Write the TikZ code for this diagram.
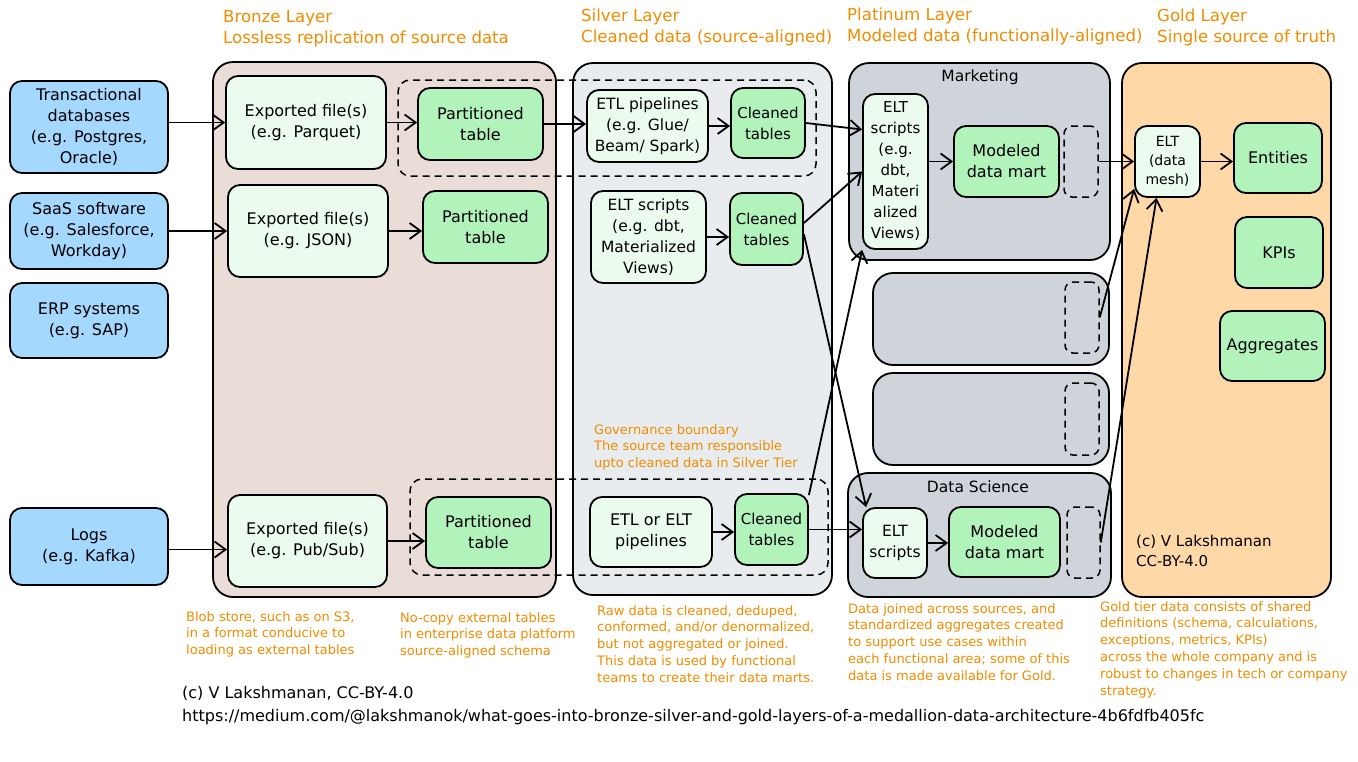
\documentclass[tikz,border=0pt]{standalone}
\usepackage{fontspec}
\setmainfont{DejaVu Sans}
\usetikzlibrary{arrows.meta}
\definecolor{cblue}{HTML}{A5D8FF}
\definecolor{clgreen}{HTML}{EBFBEE}
\definecolor{cgreen}{HTML}{B2F2BB}
\definecolor{cbronze}{HTML}{EADDD7}
\definecolor{csilver}{HTML}{E9ECEF}
\definecolor{cplat}{HTML}{CED4DA}
\definecolor{cgold}{HTML}{FFD8A8}
\definecolor{corange}{HTML}{F08C00}
\newcommand\bx[7]{\node[#2, minimum width={(#5)-(#3)}, minimum height={(#6)-(#4)}] (#1) at ({((#3)+(#5))/2},{((#4)+(#6))/2}) {#7};}
\begin{document}
\begin{tikzpicture}[x=1pt,y=-1pt,
  base/.style={draw=black, line width=1.8pt, rounded corners=12pt, align=center, inner sep=1pt, font=\fontsize{16}{21}\selectfont},
  src/.style={base, fill=cblue},
  lg/.style={base, fill=clgreen},
  gr/.style={base, fill=cgreen},
  cont/.style={draw=black, line width=1.8pt, rounded corners=20pt},
  dbox/.style={draw=black, line width=1.5pt, dash pattern=on 7pt off 5pt, rounded corners=12pt},
  ttl/.style={text=corange, font=\fontsize{16.6}{21}\selectfont, align=left, anchor=north west, inner sep=0pt},
  note/.style={text=corange, font=\fontsize{13}{16.8}\selectfont, align=left, anchor=north west, inner sep=0pt},
  lbl/.style={text=black, font=\fontsize{15.5}{19}\selectfont, inner sep=0pt},
  arr/.style={draw=black, line width=1.8pt, -{Straight Barb[length=11pt,width=16pt,line width=1.8pt]}},
]
\useasboundingbox (0,0) rectangle (1358,761);
\fill[white] (0,0) rectangle (1358,761);

% titles
\node[ttl] (tb) at (223,10) {Bronze Layer\\Lossless replication of source data};
\node[ttl] (ts) at (581,9) {Silver Layer\\Cleaned data (source-aligned)};
\node[ttl] (tp) at (847,8) {Platinum Layer\\Modeled data (functionally-aligned)};
\node[ttl] (tg) at (1157,9) {Gold Layer\\Single source of truth};

% containers
\bx{BR}{cont,fill=cbronze}{213}{62}{556}{597}{}
\bx{SI}{cont,fill=csilver}{573}{63}{832}{595}{}
\bx{MK}{cont,fill=cplat}{849}{63}{1110}{260}{}
\bx{G2}{cont,fill=cplat}{873}{273}{1109}{365}{}
\bx{G3}{cont,fill=cplat}{873}{373}{1109}{465}{}
\bx{DS}{cont,fill=cplat}{848}{473}{1111}{597}{}
\bx{GO}{cont,fill=cgold}{1122}{63}{1331}{597}{}

% dashed groups
\bx{DG1}{dbox}{398}{80}{816}{176}{}
\bx{DG2}{dbox}{410}{479}{828}{575}{}
\bx{MD}{dbox,rounded corners=8pt}{1064}{126}{1098}{197}{}
\bx{G2D}{dbox,rounded corners=8pt}{1065}{282}{1099}{353}{}
\bx{G3D}{dbox,rounded corners=8pt}{1065}{383}{1099}{455}{}
\bx{DSD}{dbox,rounded corners=8pt}{1067}{507}{1100}{578}{}

% labels
\node[lbl] (lm) at (980,77) {Marketing};
\node[lbl] (ld) at (978,487) {Data Science};

% sources
\bx{T}{src}{10}{81}{168}{173}{Transactional\\databases\\(e.g. Postgres,\\Oracle)}
\bx{S}{src}{10}{193}{168}{269}{SaaS software\\(e.g. Salesforce,\\Workday)}
\bx{E}{src}{10}{283}{168}{358}{ERP systems\\(e.g. SAP)}
\bx{L}{src}{10}{508}{168}{585}{Logs\\(e.g. Kafka)}

% bronze
\bx{P1}{lg}{226}{76}{386}{169}{Exported file(s)\\(e.g. Parquet)}
\bx{P2}{lg}{228}{185}{388}{277}{Exported file(s)\\(e.g. JSON)}
\bx{P3}{lg}{228}{495}{387}{587}{Exported file(s)\\(e.g. Pub/Sub)}
\bx{PT1}{gr}{418}{88}{543}{160}{Partitioned\\table}
\bx{PT2}{gr}{423}{191}{548}{263}{Partitioned\\table}
\bx{PT3}{gr}{426}{497}{551}{568}{Partitioned\\table}

% silver
\bx{ETL}{lg,font=\fontsize{15.5}{21}\selectfont}{587}{90}{708}{162}{ETL pipelines\\(e.g. Glue/\\Beam/ Spark)}
\bx{CT1}{gr,font=\fontsize{15}{21}\selectfont}{731}{88}{805}{158}{Cleaned\\tables}
\bx{ELT}{lg,font=\fontsize{15.5}{21}\selectfont}{591}{191}{706}{283}{ELT scripts\\(e.g. dbt,\\Materialized\\Views)}
\bx{CT2}{gr,font=\fontsize{15}{21}\selectfont}{730}{193}{803}{265}{Cleaned\\tables}
\bx{EOE}{lg}{590}{497}{712}{567}{ETL or ELT\\pipelines}
\bx{CT3}{gr,font=\fontsize{15}{21}\selectfont}{735}{494}{808}{565}{Cleaned\\tables}

% platinum
\bx{ME}{lg,font=\fontsize{15}{21}\selectfont}{863}{94}{928}{249}{ELT\\scripts\\(e.g.\\dbt,\\Materi\\alized\\Views)}
\bx{MM}{gr}{954}{126}{1059}{197}{Modeled\\data mart}
\bx{DE}{lg,font=\fontsize{15.5}{21}\selectfont}{863}{508}{927}{578}{ELT\\scripts}
\bx{DM}{gr}{949}{507}{1060}{577}{Modeled\\data mart}

% gold
\bx{GE}{lg,font=\fontsize{14}{19}\selectfont}{1135}{126}{1200}{197}{ELT\\(data\\mesh)}
\bx{EN}{gr}{1234}{123}{1322}{193}{Entities}
\bx{KP}{gr}{1235}{217}{1323}{288}{KPIs}
\bx{AG}{gr}{1220}{311}{1325}{381}{Aggregates}
\node[lbl, align=left, anchor=north west, font=\fontsize{15}{20}\selectfont] (cc) at (1136,535) {(c) V Lakshmanan\\CC-BY-4.0};

% notes
\node[note] (n0) at (594,424) {Governance boundary\\The source team responsible\\upto cleaned data in Silver Tier};
\node[note] (n1) at (186,611) {Blob store, such as on S3,\\in a format conducive to\\loading as external tables};
\node[note] (n2) at (400,612) {No-copy external tables\\in enterprise data platform\\source-aligned schema};
\node[note] (n3) at (597,605) {Raw data is cleaned, deduped,\\conformed, and/or denormalized,\\but not aggregated or joined.\\This data is used by functional\\teams to create their data marts.};
\node[note] (n4) at (848,603) {Data joined across sources, and\\standardized aggregates created\\to support use cases within\\each functional area; some of this\\data is made available for Gold.};
\node[note] (n5) at (1100,601) {Gold tier data consists of shared\\definitions (schema, calculations,\\exceptions, metrics, KPIs)\\across the whole company and is\\robust to changes in tech or company\\strategy.};
\node[anchor=north west, inner sep=0pt, align=left, font=\fontsize{16}{23}\selectfont] (ft) at (182,686) {(c) V Lakshmanan, CC-BY-4.0\\https://medium.com/@lakshmanok/what-goes-into-bronze-silver-and-gold-layers-of-a-medallion-data-architecture-4b6fdfb405fc};

% arrows
\draw[arr] (T.east |- P1.west) -- (P1.west);
\draw[arr] (S.east |- P2.west) -- (P2.west);
\draw[arr] ([yshift=-3pt]L.east) -- ([yshift=-3pt]L.east -| P3.west);
\draw[arr] (P1.east) -- (P1.east -| PT1.west);
\draw[arr] (P2.east) -- (P2.east -| PT2.west);
\draw[arr] (P3.east) -- (P3.east -| PT3.west);
\draw[arr] (PT1.east) -- (PT1.east -| ETL.west);
\draw[arr] (ETL.east) -- (ETL.east -| CT1.west);
\draw[arr] (ELT.east) -- (ELT.east -| CT2.west);
\draw[arr] (EOE.east) -- (EOE.east -| CT3.west);
\draw[arr] (CT1.east) -- ([yshift=42pt]ME.west);
\draw[arr] ([yshift=6pt]CT2.east) -- (ME.west);
\draw[arr] ([yshift=-5pt]CT2.east) -- ([xshift=4pt]DE.north west);
\draw[arr] ([yshift=-2pt]CT3.north east) -- (ME.south west);
\draw[arr] (CT3.east) -- (CT3.east -| DE.west);
\draw[arr] (ME.east |- MM.west) -- (MM.west);
\draw[arr] (DE.east) -- (DE.east -| DM.west);
\draw[arr] (MD.east) -- (MD.east -| GE.west);
\draw[arr] (G2D.east) -- ([yshift=9pt]GE.south west);
\draw[arr] (DSD.east) -- ([xshift=-11pt]GE.south);
\draw[arr] (GE.east) -- (GE.east -| EN.west);
\end{tikzpicture}
\end{document}
